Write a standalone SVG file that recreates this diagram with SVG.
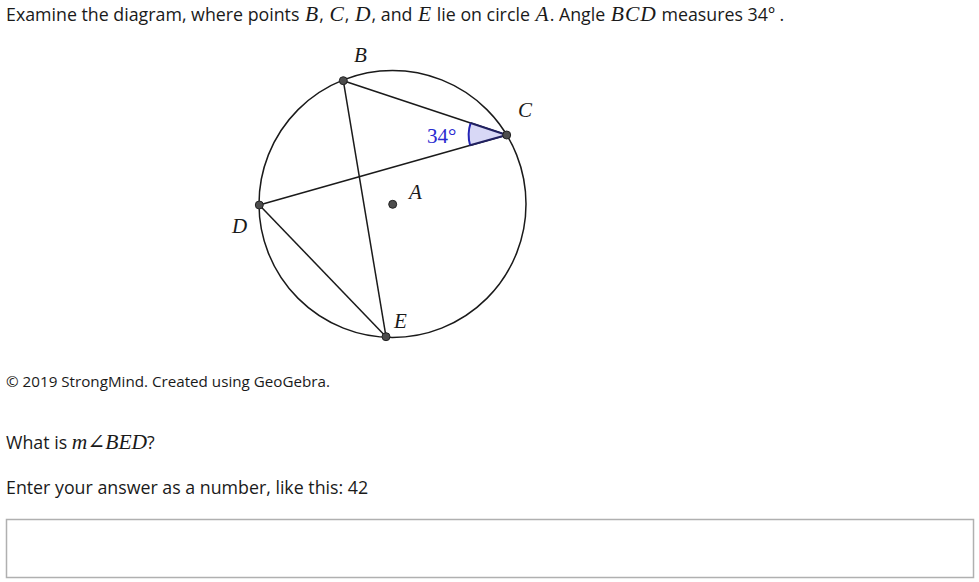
<svg xmlns="http://www.w3.org/2000/svg" width="979" height="582" viewBox="0 0 979 582">
<style>
.t{font-family:"Open Sans","Liberation Sans",sans-serif;font-size:17.8px;fill:#1a1a1a}
.m{font-family:"Liberation Serif","DejaVu Serif",serif;font-style:italic;font-size:21.5px;letter-spacing:1px}
.lbl{font-family:"Liberation Serif","DejaVu Serif",serif;font-style:italic;font-size:21px;fill:#1a1a1a}
.seg{stroke:#1a1a1a;stroke-width:1.5;fill:none}
.pt{fill:#4d4d4d;stroke:#222;stroke-width:1}
.small{font-family:"Open Sans","Liberation Sans",sans-serif;font-size:15.2px;fill:#1a1a1a}
</style>
<rect width="979" height="582" fill="#fff"/>
<text class="t" x="6" y="21">Examine the diagram, where points <tspan class="m" dx="1">B</tspan>, <tspan class="m" dx="1">C</tspan>, <tspan class="m" dx="1">D</tspan>, and <tspan class="m" dx="1">E</tspan> lie on circle <tspan class="m" dx="1">A</tspan>. Angle <tspan class="m" dx="1">BCD</tspan> measures 34°<tspan dx="4">.</tspan></text>
<g id="circleA">
<circle cx="392.5" cy="204" r="133.5" class="seg"/>
</g>
<g id="connectors">
<line class="seg" x1="343.3" y1="80.7" x2="506.7" y2="135"/>
<line class="seg" x1="506.7" y1="135" x2="259.3" y2="205"/>
<line class="seg" x1="343.3" y1="80.7" x2="386" y2="336.7"/>
<line class="seg" x1="259.3" y1="205" x2="386" y2="336.7"/>
</g>
<g id="angle">
<path d="M506.7 135 L470.6 123 A38 38 0 0 0 470.1 145.3 Z" fill="#d8d8f6" stroke="none"/>
<path d="M470.6 123 A38 38 0 0 0 470.1 145.3" fill="none" stroke="#2525b5" stroke-width="2"/>
<line x1="506.7" y1="135" x2="470.6" y2="123" stroke="#202060" stroke-width="2"/>
<line x1="506.7" y1="135" x2="470.1" y2="145.3" stroke="#202060" stroke-width="2"/>
<text x="427" y="143" font-family="Liberation Serif,DejaVu Serif,serif" font-size="21" fill="#2a2ad0">34°</text>
</g>
<g id="B"><circle class="pt" cx="343.3" cy="80.7" r="4"/><text class="lbl" x="354" y="62">B</text></g>
<g id="C"><circle class="pt" cx="506.7" cy="135" r="4"/><text class="lbl" x="518" y="117">C</text></g>
<g id="D"><circle class="pt" cx="259.3" cy="205" r="4"/><text class="lbl" x="232" y="233">D</text></g>
<g id="E"><circle class="pt" cx="386" cy="336.7" r="4"/><text class="lbl" x="394" y="328">E</text></g>
<g id="A"><circle class="pt" cx="392.7" cy="204.3" r="4"/><text class="lbl" x="409" y="199">A</text></g>
<text class="small" x="6" y="387">© 2019 StrongMind. Created using GeoGebra.</text>
<text class="t" x="6" y="449">What is <tspan class="m" style="letter-spacing:0">m∠BED</tspan>?</text>
<text class="t" x="6" y="494">Enter your answer as a number, like this: 42</text>
<rect x="6.5" y="519.5" width="967" height="58" fill="#fff" stroke="#b0b0b0" stroke-width="1.5"/>
</svg>
